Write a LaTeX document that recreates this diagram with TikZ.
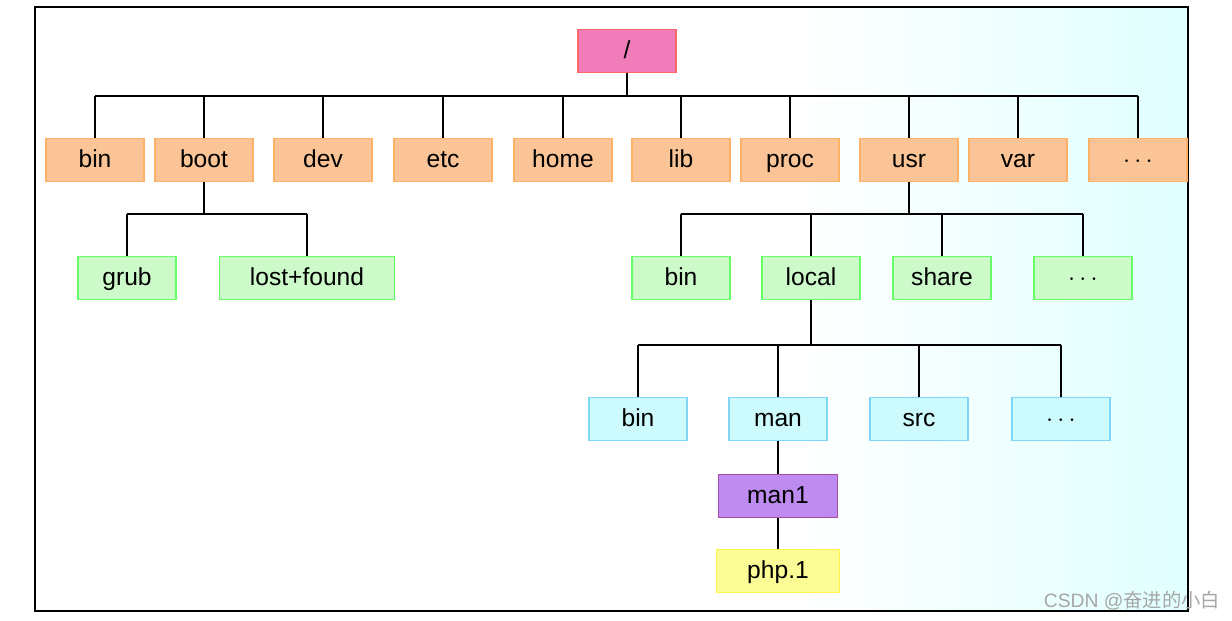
\documentclass[tikz,border=0pt]{standalone}
\usepackage{fontspec}
\setmainfont{Liberation Sans}
\newfontfamily\cjk{Noto Sans CJK SC}
\usetikzlibrary{positioning,calc}
\definecolor{dirorange}{RGB}{250,196,150}
\definecolor{dirgreen}{RGB}{204,250,200}
\definecolor{dircyan}{RGB}{205,250,252}
\definecolor{dirpink}{RGB}{240,125,185}
\definecolor{dirpurple}{RGB}{190,140,240}
\definecolor{diryellow}{RGB}{252,252,150}
\tikzset{
  dir/.style={draw, line width=1pt, minimum width=1.96cm, minimum height=0.86cm,
    inner sep=0pt, text height=2ex, text depth=0.4ex,
    font=\fontsize{14}{16}\selectfont},
  top/.style={dir, fill=dirorange, draw=orange!60},
  sub/.style={dir, fill=dirgreen, draw=green!60},
  loc/.style={dir, fill=dircyan, draw=cyan!50},
  link/.style={line width=1.6pt}
}
\begin{document}
\begin{tikzpicture}[x=0.02cm, y=-0.02cm]
\useasboundingbox (0,0) rectangle (1232,621);
% frame and background
\shade[left color=white, right color=cyan!12, shading angle=90] (800,7) rectangle (1188,611);
\draw[line width=1pt] (35,7) rectangle (1188,611);

% root
\node[dir, fill=dirpink, draw=red!60] (root) at (627,51) {/};

% first level
\node[top] (bin) at (95,160) {bin};
\node[top] (boot) at (204,160) {boot};
\node[top] (dev) at (323,160) {dev};
\node[top] (etc) at (443,160) {etc};
\node[top] (home) at (563,160) {home};
\node[top] (lib) at (681,160) {lib};
\node[top] (proc) at (790,160) {proc};
\node[top] (usr) at (909,160) {usr};
\node[top] (var) at (1018,160) {var};
\node[top] (more) at (1138,160) {$\cdots$};

% under boot
\node[sub] (grub) at (127,278) {grub};
\node[sub, minimum width=3.5cm] (lost) at (307,278) {lost+found};

% under usr
\node[sub] (ubin) at (681,278) {bin};
\node[sub] (local) at (811,278) {local};
\node[sub] (share) at (942,278) {share};
\node[sub] (umore) at (1083,278) {$\cdots$};

% under local
\node[loc] (lbin) at (638,419) {bin};
\node[loc] (man) at (778,419) {man};
\node[loc] (src) at (919,419) {src};
\node[loc] (lmore) at (1061,419) {$\cdots$};

\node[dir, fill=dirpurple, draw=violet!70, minimum width=2.38cm] (man1) at (778,496) {man1};
\node[dir, fill=diryellow, draw=yellow!70, minimum width=2.46cm] (php) at (778,571) {php.1};

% connectors
\coordinate (rb) at (627,96);
\draw[link] (root) -- (rb);
\draw[link] (rb -| bin) -- (rb -| more);
\foreach \n in {bin,boot,dev,etc,home,lib,proc,usr,var,more}
  \draw[link] (rb -| \n) -- (\n);

\coordinate (bb) at (204,214);
\draw[link] (boot) -- (bb);
\draw[link] (bb -| grub) -- (bb -| lost);
\foreach \n in {grub,lost}
  \draw[link] (bb -| \n) -- (\n);

\coordinate (ub) at (909,214);
\draw[link] (usr) -- (ub);
\draw[link] (ub -| ubin) -- (ub -| umore);
\foreach \n in {ubin,local,share,umore}
  \draw[link] (ub -| \n) -- (\n);

\coordinate (lb) at (811,345);
\draw[link] (local) -- (lb);
\draw[link] (lb -| lbin) -- (lb -| lmore);
\foreach \n in {lbin,man,src,lmore}
  \draw[link] (lb -| \n) -- (\n);

\draw[link] (man) -- (man1);
\draw[link] (man1) -- (php);

% watermark
\node[text=gray!70, font=\fontsize{11}{13}\selectfont] (mark) at (1132,601) {CSDN @{\cjk 奋进的小白}};
\end{tikzpicture}
\end{document}
